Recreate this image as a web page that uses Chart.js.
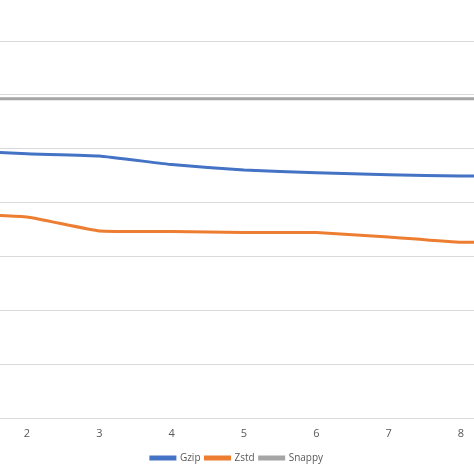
<!DOCTYPE html>
<html>
<head>
<meta charset="utf-8">
<script src="https://cdn.jsdelivr.net/npm/chart.js@4"></script>
<style>
  html, body { margin: 0; padding: 0; background: #fff; }
  #wrap { width: 474px; height: 474px; position: relative; }
</style>
</head>
<body>
<div id="wrap"><canvas id="chart"></canvas></div>
<script>
// categories (x) and series values
const CATEGORIES = [1, 2, 3, 4, 5, 6, 7, 8, 9];
const GZIP = [4.98, 4.91, 4.87, 4.71, 4.61, 4.56, 4.52, 4.50, 4.50];
const ZSTD = [3.80, 3.74, 3.48, 3.47, 3.45, 3.45, 3.37, 3.27, 3.28];
const SNAPPY = [5.93, 5.93, 5.93, 5.93, 5.93, 5.93, 5.93, 5.93, 5.93];
const X_TICKS = [2, 3, 4, 5, 6, 7, 8];

// the visible window of the (cropped) original chart
const X_MIN = 1.627;
const X_MAX = 8.18;
const Y_MIN = 0;
const Y_MAX = 7;

const TEXT_COLOR = "#595959";
const GRID_COLOR = "#d9d9d9";

function toPoints(values) {
  return CATEGORIES.map((x, i) => ({ x, y: values[i] }));
}

const SERIES = [
  { label: "Gzip", values: GZIP, color: "#4472c4" },
  { label: "Zstd", values: ZSTD, color: "#ed7d31" },
  { label: "Snappy", values: SNAPPY, color: "#a5a5a5" },
];

new Chart(document.getElementById("chart"), {
  type: "line",
  data: {
    datasets: SERIES.map((s) => ({
      label: s.label,
      data: toPoints(s.values),
      borderColor: s.color,
      backgroundColor: s.color,
      borderWidth: 3,
      pointRadius: 0,
      tension: 0.1,
    })),
  },
  options: {
    responsive: true,
    maintainAspectRatio: false,
    animation: false,
    layout: { padding: { top: 41, bottom: 1, left: 0, right: 0 } },
    plugins: {
      tooltip: { enabled: false },
      legend: {
        position: "bottom",
        labels: {
          boxWidth: 24,
          boxHeight: 2,
          padding: 5,
          color: TEXT_COLOR,
          font: { family: "'Open Sans', sans-serif", size: 10 },
        },
      },
    },
    scales: {
      x: {
        type: "linear",
        min: X_MIN,
        max: X_MAX,
        afterBuildTicks(scale) {
          scale.ticks = X_TICKS.map((value) => ({ value }));
        },
        grid: { display: false, drawTicks: false },
        border: { display: true, color: GRID_COLOR, width: 1 },
        ticks: {
          color: TEXT_COLOR,
          padding: 8,
          font: { family: "'Open Sans', sans-serif", size: 11 },
        },
      },
      y: {
        min: Y_MIN,
        max: Y_MAX,
        ticks: { display: false, stepSize: 1 },
        grid: { color: GRID_COLOR, lineWidth: 1, drawTicks: false },
        border: { display: false },
      },
    },
  },
});
</script>
</body>
</html>
